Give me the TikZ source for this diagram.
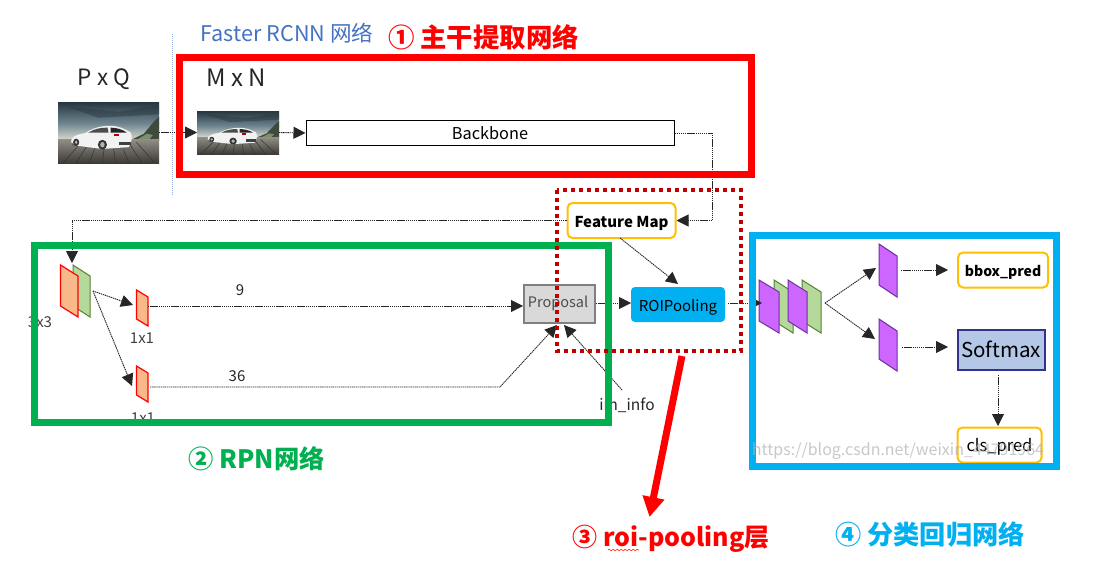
\documentclass[tikz,border=0pt]{standalone}
\usepackage{fontspec}
\setmainfont{Noto Sans CJK SC}
\usetikzlibrary{arrows.meta,decorations.pathmorphing}
\definecolor{redbox}{HTML}{FF0000}
\definecolor{greenbox}{HTML}{00B050}
\definecolor{bluebox}{HTML}{00B0F0}
\definecolor{darkdot}{HTML}{C00000}
\definecolor{goldline}{HTML}{FFC000}
\definecolor{titleblue}{HTML}{4472C4}
\definecolor{orangefill}{HTML}{F9B88A}
\definecolor{greenfill}{HTML}{B5D99A}
\definecolor{greenedge}{HTML}{548235}
\definecolor{purplefill}{HTML}{CC66FF}
\definecolor{purpleedge}{HTML}{7030A0}
\definecolor{skytop}{HTML}{26363F}
\definecolor{skymid}{HTML}{6F8690}
\definecolor{skylow}{HTML}{D8DAD0}
\definecolor{hilldark}{HTML}{3F4A3C}
\definecolor{hillgreen}{HTML}{7C8F6C}
\definecolor{groundtop}{HTML}{8F8C84}
\definecolor{groundlow}{HTML}{3E3B38}
\newcommand{\fsz}[1]{\fontsize{#1}{#1}\selectfont}
\newsavebox{\tbbox}
\newcommand{\tb}[3]{\sbox{\tbbox}{\fsz{#1}#3}\rule{0pt}{\dimexpr\ht\tbbox+#2pt}\usebox{\tbbox}}
\tikzset{
  x=1pt,y=-1pt,
  txt/.style={inner sep=0pt,text=black!85},
  conn/.style={dash pattern=on 1.4pt off .7pt,line width=0.9pt,draw=black!85,-{Triangle[length=12pt,width=12pt]}},
  goldbox/.style={draw=goldline,line width=2pt,fill=white,rounded corners=5pt,inner sep=0pt},
  frame/.style={line width=7pt,miter limit=10},
  orangepara/.style={draw=red,line width=1.2pt,fill=orangefill},
  greenpara/.style={draw=greenedge,line width=1pt,fill=greenfill},
  purplepara/.style={draw=purpleedge,line width=1pt,fill=purplefill},
  carimg/.pic={
    \shade[top color=skytop,bottom color=skymid,draw=none] (0,0) rectangle (100,35);
    \shade[top color=skymid,bottom color=skylow,draw=none] (0,35) rectangle (100,62);
    \fill[skytop,opacity=.45] (10,8) -- (60,16) -- (100,5) -- (100,20) -- (40,26) -- cycle;
    \fill[hilldark] (70,64) -- (85,52) -- (96,30) -- (100,24) -- (100,64) -- cycle;
    \fill[hillgreen] (78,62) -- (88,52) -- (94,54) -- (90,62) -- cycle;
    \shade[top color=groundtop,bottom color=groundlow] (0,62) rectangle (100,100);
    \foreach \q in {5,18,31,44,57,70,83,96}
      \draw[black!80,line width=.5pt] (\q,100) -- ({50+(\q-50)*.6},66);
    \fill[black!60] (14,72) -- (72,79) -- (70,76) -- (14,68) -- cycle;
    \fill[white!95!black] (13,66) .. controls (12,58) and (18,53) .. (27,51) .. controls (34,43) and (42,39) .. (52,39) .. controls (60,39) and (66,44) .. (72,50) .. controls (74,56) and (73,68) .. (70,74) -- (44,77) -- (20,72) -- cycle;
    \fill[black!70] (30,50) .. controls (36,44) and (42,42) .. (49,42) -- (50,50) -- cycle;
    \fill[black!85] (52,42) .. controls (58,42) and (64,45) .. (68,50) -- (52,50) -- cycle;
    \fill[red!70!black] (55,52) rectangle (60,55);
    \fill[black!75] (60,66) rectangle (72,71);
    \fill[black!80] (44,70) circle[x radius=4.5,y radius=8];
    \fill[black!30] (44,70) circle[x radius=2.2,y radius=4.5];
    \fill[black!80] (18,66) circle[x radius=3,y radius=6];
    \fill[black!30] (18,66) circle[x radius=1.4,y radius=3.2];
  }
}
\begin{document}
\begin{tikzpicture}
\useasboundingbox (0,0) rectangle (1097,565);
\fill[white] (0,0) rectangle (1097,565);

% vertical separator
\coordinate (sepT) at (172,34);
\coordinate (sepB) at (172,195);
\draw[titleblue!55,line width=1pt,densely dotted] (sepT) -- (sepB);

% images
\pic[xscale=1.01,yscale=.61] at (58,102) {carimg};
\pic[xscale=.82,yscale=.43] at (197,111) {carimg};
\coordinate (imgA) at (159,132.5);
\coordinate (imgB) at (197,132.5);
\coordinate (imgBr) at (279,132.5);

% title text
\node[txt,text=titleblue] (title) at (287,33) {\fsz{21.6}Faster RCNN 网络};
\node[txt] (pq) at (104,79) {\fsz{22.5}P x Q};
\node[txt] (mn) at (236.5,78) {\fsz{24}M x N};

% boxes
\node[draw=black,line width=1pt,fill=white,minimum width=368pt,minimum height=25pt,inner sep=0pt] (bb) at (490,133) {\fsz{16.3}Backbone};
\node[goldbox,minimum width=108pt,minimum height=35pt] (fm) at (621.5,220.5) {\tb{15}{5}{\bfseries Feature Map}};
\node[draw=black!50,line width=2.5pt,fill=black!15,minimum width=71pt,minimum height=38pt,inner sep=0pt] (prop) at (559.5,304) {};
\node[txt,text=black!70] (proptxt) at (558,303) {\fsz{14.5}Proposal};
\node[fill=bluebox,rounded corners=4pt,minimum width=94pt,minimum height=35pt,inner sep=0pt] (roi) at (678,304.5) {\tb{15}{5}{ROIPooling}};
\node[goldbox,minimum width=90pt,minimum height=35pt] (bbox) at (1003,270) {\tb{14}{5}{\bfseries bbox\_pred}};
\node[draw=blue!45!black!80,line width=2pt,fill=titleblue!40,minimum width=87pt,minimum height=40pt,inner sep=0pt] (soft) at (1001,349.5) {\fsz{20.5}Softmax};
\node[goldbox,minimum width=84pt,minimum height=35pt] (cls) at (999.5,445) {\tb{16.5}{3}{cls\_pred}};

% small labels
\node[txt] (n9) at (240,290) {\fsz{15}9};
\node[txt] (n36) at (237,376) {\fsz{15}36};
\node[txt,text=black!75] (l1) at (142,338) {\fsz{15}1x1};
\node[txt,text=black!75] (l2) at (143,418) {\fsz{15}1x1};
\node[txt,text=black!75] (l3) at (40,322) {\fsz{15}3x3};
\node[txt] (imi) at (627,405) {\fsz{15.5}im\_info};

% RPN parallelograms
\path[greenpara] (73,265) -- (90,276) -- (90,317) -- (73,306) -- cycle;
\path[orangepara] (60.5,265) -- (78,276) -- (78,317) -- (60.5,306) -- cycle;
\path[orangepara] (136.5,290) -- (148,297) -- (148,326) -- (136.5,319) -- cycle;
\path[orangepara] (136.5,366) -- (148,373) -- (148,402) -- (136.5,395) -- cycle;

% stack
\path[greenpara] (802,280) -- (821,292) -- (821,333) -- (802,321) -- cycle;
\path[greenpara] (774,280) -- (793,292) -- (793,333) -- (774,321) -- cycle;
\path[purplepara] (759,280) -- (779,292) -- (779,333) -- (759,321) -- cycle;
\path[purplepara] (788,280) -- (807,292) -- (807,333) -- (788,321) -- cycle;
\path[purplepara] (879,244) -- (897,256) -- (897,297) -- (879,285) -- cycle;
\path[purplepara] (879,319) -- (897,331) -- (897,371) -- (879,359) -- cycle;

% connector coordinates
\coordinate (rpnIn) at (72,263);
\coordinate (rpnOut) at (93,291);
\coordinate (oneA) at (133,305);
\coordinate (oneAr) at (148,306);
\coordinate (oneB) at (132,386);
\coordinate (oneBr) at (150,387);
\coordinate (bendL) at (500,387);
\coordinate (propL) at (523,306);
\coordinate (propB) at (557,325);
\coordinate (propB2) at (564,325);
\coordinate (imiT) at (622,390);
\coordinate (fmB) at (620,238);
\coordinate (roiT) at (678,284);
\coordinate (propR) at (596,303);
\coordinate (roiL) at (631,303);
\coordinate (roiR) at (728,303);
\coordinate (stackL) at (762,303);
\coordinate (stackR) at (825,303);
\coordinate (upL) at (876,268);
\coordinate (loL) at (875,339);
\coordinate (upR) at (901,270);
\coordinate (loR) at (902,347);
\coordinate (bbL) at (948,270);
\coordinate (sfL) at (948,347);
\coordinate (sfB) at (998,375);
\coordinate (clT) at (998,426);

% connectors
\draw[conn] (imgA) -- (imgB);
\draw[conn] (imgBr) -- (bb.west);
\draw[conn] (bb.east) -- ++(38,0) |- (fm.east);
\draw[conn] (fm.west) -| (rpnIn);
\draw[conn] (rpnOut) -- (oneA);
\draw[conn] (rpnOut) -- (oneB);
\draw[conn] (oneAr) -- (propL);
\draw[conn] (oneBr) -- (bendL) -- (propB);
\draw[conn] (imiT) -- (propB2);
\draw[conn] (fmB) -- (roiT);
\draw[conn] (propR) -- (roiL);
\draw[conn] (roiR) -- (stackL);
\draw[conn] (stackR) -- (upL);
\draw[conn] (stackR) -- (loL);
\draw[conn] (upR) -- (bbL);
\draw[conn] (loR) -- (sfL);
\draw[conn] (sfB) -- (clT);

% coloured frames
\draw[frame,draw=redbox] (179,57.5) rectangle (751.5,174.5);
\draw[frame,draw=greenbox] (34.5,245.5) rectangle (608.5,422.5);
\draw[frame,draw=bluebox] (752.5,235.5) rectangle (1056.5,466.5);
\node[txt,text=black!30,opacity=.7] (wm) at (898,451) {\fsz{16}https://blog.csdn.net/weixin\_44791964};
\draw[draw=darkdot,line width=4pt,dash pattern=on 4pt off 4pt] (557,190) rectangle (741,351);

% big red arrow
\coordinate (redT) at (682,356);
\coordinate (redH) at (649.5,517);
\draw[draw=red,line width=7pt,-{Triangle[length=20pt,width=21pt]}] (redT) -- (redH);

% section labels
\node[txt,text=red,font=\bfseries] (s1) at (483.5,37) {\fsz{26.4}① 主干提取网络};
\node[txt,text=greenbox,font=\bfseries] (s2) at (256.5,459) {\fsz{25.3}② RPN网络};
\node[txt,text=red,font=\bfseries] (s3) at (671,539) {\fsz{25}③ roi-pooling层};
\node[txt,text=bluebox,font=\bfseries] (s4) at (930,535) {\fsz{26.2}④ 分类回归网络};
\coordinate (wavyA) at (608,550);
\coordinate (wavyB) at (639,550);
\draw[red,line width=.5pt,decorate,decoration={snake,amplitude=.8pt,segment length=4pt}] (wavyA) -- (wavyB);
\end{tikzpicture}
\end{document}
